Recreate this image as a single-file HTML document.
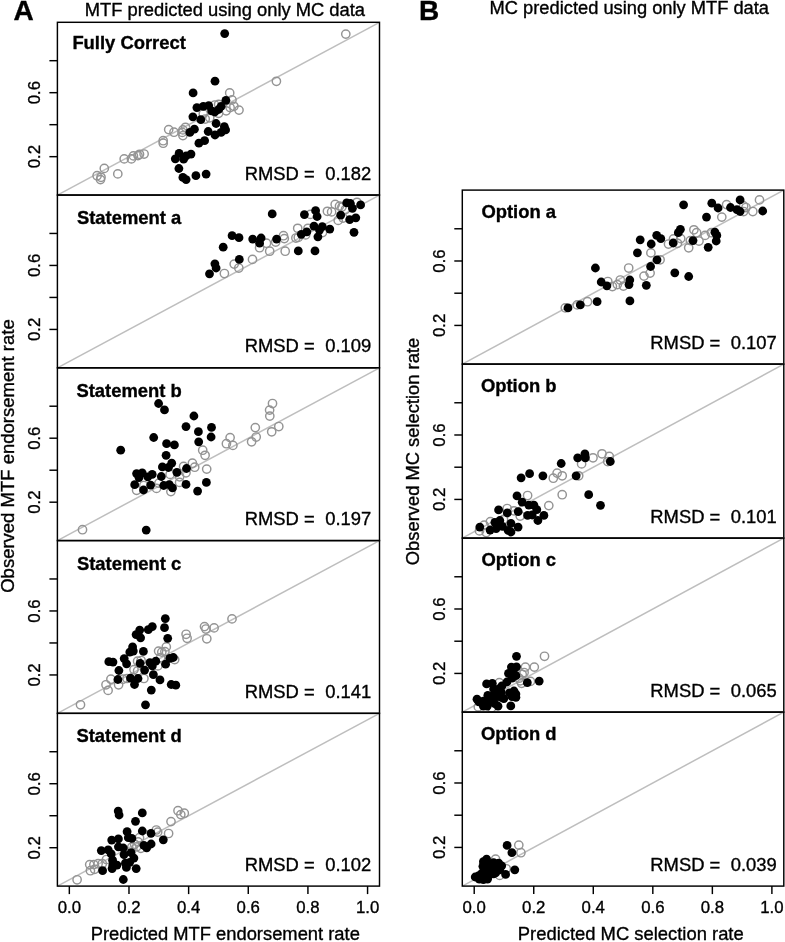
<!DOCTYPE html>
<html lang="en"><head><meta charset="utf-8"><title>Predicted vs observed rates</title>
<style>html,body{margin:0;padding:0;background:#fff}svg{display:block}</style></head>
<body>
<svg width="785" height="942" viewBox="0 0 785 942" font-family="'Liberation Sans', sans-serif" fill="#000" stroke="#000" stroke-width="0.35">
<rect width="785" height="942" fill="#fff" stroke="none"/>
<line x1="57.40" y1="195.06" x2="379.50" y2="22.30" stroke="#bebebe" stroke-width="1.5"/>
<g fill="none" stroke="#949494" stroke-width="1.45">
<circle cx="229.7" cy="92.9" r="4.15"/>
<circle cx="232.0" cy="99.9" r="4.15"/>
<circle cx="239.0" cy="110.1" r="4.15"/>
<circle cx="233.9" cy="106.3" r="4.15"/>
<circle cx="230.1" cy="107.6" r="4.15"/>
<circle cx="226.2" cy="110.8" r="4.15"/>
<circle cx="218.6" cy="104.4" r="4.15"/>
<circle cx="214.8" cy="105.0" r="4.15"/>
<circle cx="218.6" cy="113.3" r="4.15"/>
<circle cx="209.7" cy="117.8" r="4.15"/>
<circle cx="205.2" cy="119.0" r="4.15"/>
<circle cx="203.3" cy="113.9" r="4.15"/>
<circle cx="168.7" cy="129.6" r="4.15"/>
<circle cx="174.0" cy="132.2" r="4.15"/>
<circle cx="182.9" cy="129.9" r="4.15"/>
<circle cx="185.5" cy="127.3" r="4.15"/>
<circle cx="182.9" cy="135.6" r="4.15"/>
<circle cx="182.3" cy="132.4" r="4.15"/>
<circle cx="163.2" cy="140.7" r="4.15"/>
<circle cx="163.2" cy="143.2" r="4.15"/>
<circle cx="97.1" cy="175.7" r="4.15"/>
<circle cx="101.0" cy="177.3" r="4.15"/>
<circle cx="100.5" cy="179.6" r="4.15"/>
<circle cx="104.3" cy="168.4" r="4.15"/>
<circle cx="117.8" cy="173.9" r="4.15"/>
<circle cx="124.2" cy="158.9" r="4.15"/>
<circle cx="131.4" cy="158.9" r="4.15"/>
<circle cx="133.4" cy="155.9" r="4.15"/>
<circle cx="138.0" cy="155.6" r="4.15"/>
<circle cx="139.5" cy="154.3" r="4.15"/>
<circle cx="144.1" cy="154.0" r="4.15"/>
<circle cx="345.8" cy="34.1" r="4.15"/>
<circle cx="276.4" cy="81.3" r="4.15"/>
</g>
<g fill="#000" stroke="none">
<circle cx="215.0" cy="81.2" r="4.4"/>
<circle cx="193.1" cy="92.9" r="4.4"/>
<circle cx="225.9" cy="100.3" r="4.4"/>
<circle cx="196.9" cy="107.6" r="4.4"/>
<circle cx="203.3" cy="106.3" r="4.4"/>
<circle cx="208.7" cy="105.7" r="4.4"/>
<circle cx="211.6" cy="110.8" r="4.4"/>
<circle cx="214.8" cy="112.0" r="4.4"/>
<circle cx="218.6" cy="109.5" r="4.4"/>
<circle cx="221.1" cy="106.3" r="4.4"/>
<circle cx="192.9" cy="116.8" r="4.4"/>
<circle cx="200.8" cy="119.7" r="4.4"/>
<circle cx="216.1" cy="123.5" r="4.4"/>
<circle cx="224.3" cy="126.7" r="4.4"/>
<circle cx="225.6" cy="129.9" r="4.4"/>
<circle cx="221.1" cy="132.4" r="4.4"/>
<circle cx="215.0" cy="135.0" r="4.4"/>
<circle cx="208.2" cy="131.5" r="4.4"/>
<circle cx="194.4" cy="129.2" r="4.4"/>
<circle cx="189.9" cy="132.4" r="4.4"/>
<circle cx="204.6" cy="140.7" r="4.4"/>
<circle cx="198.9" cy="143.2" r="4.4"/>
<circle cx="179.1" cy="153.4" r="4.4"/>
<circle cx="191.0" cy="154.1" r="4.4"/>
<circle cx="186.1" cy="156.0" r="4.4"/>
<circle cx="175.3" cy="158.8" r="4.4"/>
<circle cx="183.6" cy="159.2" r="4.4"/>
<circle cx="178.9" cy="168.5" r="4.4"/>
<circle cx="182.9" cy="177.4" r="4.4"/>
<circle cx="186.1" cy="179.6" r="4.4"/>
<circle cx="195.9" cy="175.7" r="4.4"/>
<circle cx="206.1" cy="174.1" r="4.4"/>
<circle cx="224.7" cy="33.6" r="4.4"/>
</g>
<rect x="57.40" y="22.30" width="322.10" height="172.76" fill="none" stroke="#000" stroke-width="1.45"/>
<line x1="49.40" y1="156.67" x2="57.40" y2="156.67" stroke="#000" stroke-width="1.45"/>
<line x1="49.40" y1="124.68" x2="57.40" y2="124.68" stroke="#000" stroke-width="1.45"/>
<line x1="49.40" y1="92.68" x2="57.40" y2="92.68" stroke="#000" stroke-width="1.45"/>
<line x1="49.40" y1="60.69" x2="57.40" y2="60.69" stroke="#000" stroke-width="1.45"/>
<text transform="translate(40.00 156.67) rotate(-90)" text-anchor="middle" font-size="16.8">0.2</text>
<text transform="translate(40.00 92.68) rotate(-90)" text-anchor="middle" font-size="16.8">0.6</text>
<text x="129.10" y="49.10" font-size="18.4" font-weight="bold" text-anchor="middle">Fully Correct</text>
<text x="244.70" y="179.56" font-size="18.4">RMSD =</text>
<text x="371.20" y="179.56" font-size="18.4" text-anchor="end">0.182</text>
<line x1="57.40" y1="367.82" x2="379.50" y2="195.06" stroke="#bebebe" stroke-width="1.5"/>
<g fill="none" stroke="#949494" stroke-width="1.45">
<circle cx="283.5" cy="235.7" r="4.15"/>
<circle cx="284.3" cy="238.6" r="4.15"/>
<circle cx="266.5" cy="243.2" r="4.15"/>
<circle cx="259.6" cy="247.7" r="4.15"/>
<circle cx="275.7" cy="242.0" r="4.15"/>
<circle cx="269.7" cy="251.2" r="4.15"/>
<circle cx="285.2" cy="251.2" r="4.15"/>
<circle cx="252.5" cy="259.4" r="4.15"/>
<circle cx="234.2" cy="264.1" r="4.15"/>
<circle cx="238.8" cy="268.0" r="4.15"/>
<circle cx="224.4" cy="273.5" r="4.15"/>
<circle cx="357.0" cy="202.3" r="4.15"/>
<circle cx="335.2" cy="204.4" r="4.15"/>
<circle cx="339.5" cy="206.1" r="4.15"/>
<circle cx="341.9" cy="207.1" r="4.15"/>
<circle cx="327.4" cy="211.3" r="4.15"/>
<circle cx="331.6" cy="211.9" r="4.15"/>
<circle cx="310.4" cy="214.4" r="4.15"/>
<circle cx="338.2" cy="220.4" r="4.15"/>
<circle cx="343.1" cy="218.0" r="4.15"/>
<circle cx="297.7" cy="228.3" r="4.15"/>
<circle cx="308.0" cy="228.3" r="4.15"/>
<circle cx="295.9" cy="238.0" r="4.15"/>
<circle cx="298.3" cy="237.4" r="4.15"/>
<circle cx="305.6" cy="234.9" r="4.15"/>
<circle cx="322.5" cy="232.5" r="4.15"/>
<circle cx="345.5" cy="209.5" r="4.15"/>
</g>
<g fill="#000" stroke="none">
<circle cx="272.2" cy="213.9" r="4.4"/>
<circle cx="232.1" cy="235.7" r="4.4"/>
<circle cx="239.0" cy="237.7" r="4.4"/>
<circle cx="252.7" cy="239.1" r="4.4"/>
<circle cx="261.1" cy="238.0" r="4.4"/>
<circle cx="259.6" cy="243.2" r="4.4"/>
<circle cx="276.6" cy="239.1" r="4.4"/>
<circle cx="223.2" cy="247.2" r="4.4"/>
<circle cx="239.3" cy="259.4" r="4.4"/>
<circle cx="214.9" cy="263.8" r="4.4"/>
<circle cx="216.1" cy="268.0" r="4.4"/>
<circle cx="209.5" cy="273.8" r="4.4"/>
<circle cx="346.7" cy="202.9" r="4.4"/>
<circle cx="350.4" cy="203.5" r="4.4"/>
<circle cx="352.4" cy="208.3" r="4.4"/>
<circle cx="360.6" cy="204.9" r="4.4"/>
<circle cx="355.8" cy="217.8" r="4.4"/>
<circle cx="349.7" cy="219.6" r="4.4"/>
<circle cx="340.7" cy="215.2" r="4.4"/>
<circle cx="354.0" cy="232.3" r="4.4"/>
<circle cx="315.6" cy="210.7" r="4.4"/>
<circle cx="317.1" cy="216.5" r="4.4"/>
<circle cx="304.4" cy="214.6" r="4.4"/>
<circle cx="314.0" cy="226.2" r="4.4"/>
<circle cx="322.3" cy="226.7" r="4.4"/>
<circle cx="319.5" cy="230.1" r="4.4"/>
<circle cx="329.8" cy="229.1" r="4.4"/>
<circle cx="317.9" cy="236.8" r="4.4"/>
<circle cx="306.8" cy="231.9" r="4.4"/>
<circle cx="301.3" cy="234.3" r="4.4"/>
<circle cx="298.3" cy="250.9" r="4.4"/>
<circle cx="315.0" cy="250.9" r="4.4"/>
</g>
<rect x="57.40" y="195.06" width="322.10" height="172.76" fill="none" stroke="#000" stroke-width="1.45"/>
<line x1="49.40" y1="329.43" x2="57.40" y2="329.43" stroke="#000" stroke-width="1.45"/>
<line x1="49.40" y1="297.44" x2="57.40" y2="297.44" stroke="#000" stroke-width="1.45"/>
<line x1="49.40" y1="265.44" x2="57.40" y2="265.44" stroke="#000" stroke-width="1.45"/>
<line x1="49.40" y1="233.45" x2="57.40" y2="233.45" stroke="#000" stroke-width="1.45"/>
<text transform="translate(40.00 329.43) rotate(-90)" text-anchor="middle" font-size="16.8">0.2</text>
<text transform="translate(40.00 265.44) rotate(-90)" text-anchor="middle" font-size="16.8">0.6</text>
<text x="129.10" y="224.16" font-size="18.4" font-weight="bold" text-anchor="middle">Statement a</text>
<text x="244.70" y="352.32" font-size="18.4">RMSD =</text>
<text x="371.20" y="352.32" font-size="18.4" text-anchor="end">0.109</text>
<line x1="57.40" y1="540.58" x2="379.50" y2="367.82" stroke="#bebebe" stroke-width="1.5"/>
<g fill="none" stroke="#949494" stroke-width="1.45">
<circle cx="202.7" cy="450.2" r="4.15"/>
<circle cx="205.1" cy="455.3" r="4.15"/>
<circle cx="206.7" cy="469.1" r="4.15"/>
<circle cx="192.4" cy="463.2" r="4.15"/>
<circle cx="194.7" cy="467.2" r="4.15"/>
<circle cx="183.6" cy="466.4" r="4.15"/>
<circle cx="186.0" cy="472.8" r="4.15"/>
<circle cx="179.6" cy="476.8" r="4.15"/>
<circle cx="179.6" cy="482.4" r="4.15"/>
<circle cx="170.1" cy="474.4" r="4.15"/>
<circle cx="170.9" cy="491.6" r="4.15"/>
<circle cx="156.5" cy="488.4" r="4.15"/>
<circle cx="136.6" cy="490.3" r="4.15"/>
<circle cx="143.8" cy="485.5" r="4.15"/>
<circle cx="158.9" cy="483.2" r="4.15"/>
<circle cx="272.5" cy="403.5" r="4.15"/>
<circle cx="269.6" cy="410.1" r="4.15"/>
<circle cx="269.8" cy="416.1" r="4.15"/>
<circle cx="278.8" cy="426.5" r="4.15"/>
<circle cx="271.7" cy="431.8" r="4.15"/>
<circle cx="255.3" cy="427.6" r="4.15"/>
<circle cx="256.2" cy="437.0" r="4.15"/>
<circle cx="251.6" cy="441.8" r="4.15"/>
<circle cx="230.1" cy="437.6" r="4.15"/>
<circle cx="226.4" cy="443.7" r="4.15"/>
<circle cx="232.9" cy="445.4" r="4.15"/>
<circle cx="82.5" cy="529.7" r="4.15"/>
</g>
<g fill="#000" stroke="none">
<circle cx="158.6" cy="403.5" r="4.4"/>
<circle cx="164.5" cy="409.9" r="4.4"/>
<circle cx="193.9" cy="416.0" r="4.4"/>
<circle cx="186.0" cy="426.6" r="4.4"/>
<circle cx="211.5" cy="427.4" r="4.4"/>
<circle cx="198.4" cy="431.7" r="4.4"/>
<circle cx="211.1" cy="437.0" r="4.4"/>
<circle cx="198.7" cy="441.8" r="4.4"/>
<circle cx="153.7" cy="437.5" r="4.4"/>
<circle cx="166.6" cy="443.7" r="4.4"/>
<circle cx="174.4" cy="444.9" r="4.4"/>
<circle cx="120.7" cy="450.2" r="4.4"/>
<circle cx="166.1" cy="455.3" r="4.4"/>
<circle cx="171.7" cy="463.2" r="4.4"/>
<circle cx="162.4" cy="466.9" r="4.4"/>
<circle cx="168.5" cy="467.5" r="4.4"/>
<circle cx="186.5" cy="468.5" r="4.4"/>
<circle cx="176.9" cy="472.3" r="4.4"/>
<circle cx="161.3" cy="476.5" r="4.4"/>
<circle cx="136.6" cy="473.6" r="4.4"/>
<circle cx="142.2" cy="472.8" r="4.4"/>
<circle cx="139.0" cy="477.6" r="4.4"/>
<circle cx="147.8" cy="476.8" r="4.4"/>
<circle cx="152.2" cy="474.4" r="4.4"/>
<circle cx="134.7" cy="484.7" r="4.4"/>
<circle cx="143.5" cy="490.0" r="4.4"/>
<circle cx="150.6" cy="485.1" r="4.4"/>
<circle cx="163.7" cy="485.5" r="4.4"/>
<circle cx="169.3" cy="484.7" r="4.4"/>
<circle cx="172.5" cy="487.9" r="4.4"/>
<circle cx="186.0" cy="484.4" r="4.4"/>
<circle cx="206.4" cy="482.4" r="4.4"/>
<circle cx="197.6" cy="491.1" r="4.4"/>
<circle cx="146.2" cy="530.1" r="4.4"/>
</g>
<rect x="57.40" y="367.82" width="322.10" height="172.76" fill="none" stroke="#000" stroke-width="1.45"/>
<line x1="49.40" y1="502.19" x2="57.40" y2="502.19" stroke="#000" stroke-width="1.45"/>
<line x1="49.40" y1="470.20" x2="57.40" y2="470.20" stroke="#000" stroke-width="1.45"/>
<line x1="49.40" y1="438.20" x2="57.40" y2="438.20" stroke="#000" stroke-width="1.45"/>
<line x1="49.40" y1="406.21" x2="57.40" y2="406.21" stroke="#000" stroke-width="1.45"/>
<text transform="translate(40.00 502.19) rotate(-90)" text-anchor="middle" font-size="16.8">0.2</text>
<text transform="translate(40.00 438.20) rotate(-90)" text-anchor="middle" font-size="16.8">0.6</text>
<text x="129.10" y="396.92" font-size="18.4" font-weight="bold" text-anchor="middle">Statement b</text>
<text x="244.70" y="525.08" font-size="18.4">RMSD =</text>
<text x="371.20" y="525.08" font-size="18.4" text-anchor="end">0.197</text>
<line x1="57.40" y1="713.34" x2="379.50" y2="540.58" stroke="#bebebe" stroke-width="1.5"/>
<g fill="none" stroke="#949494" stroke-width="1.45">
<circle cx="166.3" cy="646.9" r="4.15"/>
<circle cx="158.6" cy="651.1" r="4.15"/>
<circle cx="161.8" cy="652.1" r="4.15"/>
<circle cx="164.9" cy="651.6" r="4.15"/>
<circle cx="137.6" cy="661.2" r="4.15"/>
<circle cx="141.1" cy="660.5" r="4.15"/>
<circle cx="134.0" cy="669.6" r="4.15"/>
<circle cx="137.6" cy="671.0" r="4.15"/>
<circle cx="110.9" cy="679.2" r="4.15"/>
<circle cx="106.0" cy="684.8" r="4.15"/>
<circle cx="108.1" cy="690.4" r="4.15"/>
<circle cx="118.6" cy="684.8" r="4.15"/>
<circle cx="122.8" cy="679.2" r="4.15"/>
<circle cx="127.0" cy="678.5" r="4.15"/>
<circle cx="143.9" cy="678.5" r="4.15"/>
<circle cx="157.9" cy="665.9" r="4.15"/>
<circle cx="174.7" cy="659.6" r="4.15"/>
<circle cx="160.7" cy="657.5" r="4.15"/>
<circle cx="186.1" cy="634.3" r="4.15"/>
<circle cx="187.1" cy="638.3" r="4.15"/>
<circle cx="204.5" cy="626.6" r="4.15"/>
<circle cx="205.9" cy="629.0" r="4.15"/>
<circle cx="206.8" cy="638.8" r="4.15"/>
<circle cx="214.1" cy="627.9" r="4.15"/>
<circle cx="232.0" cy="618.9" r="4.15"/>
<circle cx="80.5" cy="704.8" r="4.15"/>
</g>
<g fill="#000" stroke="none">
<circle cx="165.3" cy="618.6" r="4.4"/>
<circle cx="164.5" cy="627.7" r="4.4"/>
<circle cx="167.7" cy="638.3" r="4.4"/>
<circle cx="152.3" cy="626.6" r="4.4"/>
<circle cx="148.3" cy="629.7" r="4.4"/>
<circle cx="139.7" cy="630.1" r="4.4"/>
<circle cx="136.1" cy="634.6" r="4.4"/>
<circle cx="140.6" cy="637.8" r="4.4"/>
<circle cx="132.6" cy="646.9" r="4.4"/>
<circle cx="133.3" cy="651.1" r="4.4"/>
<circle cx="129.8" cy="652.1" r="4.4"/>
<circle cx="143.4" cy="651.4" r="4.4"/>
<circle cx="173.3" cy="657.5" r="4.4"/>
<circle cx="169.8" cy="658.4" r="4.4"/>
<circle cx="165.6" cy="664.2" r="4.4"/>
<circle cx="155.8" cy="661.2" r="4.4"/>
<circle cx="149.9" cy="662.6" r="4.4"/>
<circle cx="152.3" cy="665.9" r="4.4"/>
<circle cx="140.1" cy="663.3" r="4.4"/>
<circle cx="144.6" cy="670.1" r="4.4"/>
<circle cx="124.2" cy="658.6" r="4.4"/>
<circle cx="126.6" cy="663.8" r="4.4"/>
<circle cx="108.8" cy="661.7" r="4.4"/>
<circle cx="113.0" cy="662.1" r="4.4"/>
<circle cx="118.9" cy="670.5" r="4.4"/>
<circle cx="117.9" cy="679.5" r="4.4"/>
<circle cx="130.5" cy="678.1" r="4.4"/>
<circle cx="138.0" cy="678.5" r="4.4"/>
<circle cx="134.5" cy="684.5" r="4.4"/>
<circle cx="153.4" cy="674.7" r="4.4"/>
<circle cx="160.0" cy="679.9" r="4.4"/>
<circle cx="151.3" cy="690.1" r="4.4"/>
<circle cx="171.2" cy="684.5" r="4.4"/>
<circle cx="175.8" cy="685.2" r="4.4"/>
<circle cx="145.5" cy="704.8" r="4.4"/>
</g>
<rect x="57.40" y="540.58" width="322.10" height="172.76" fill="none" stroke="#000" stroke-width="1.45"/>
<line x1="49.40" y1="674.95" x2="57.40" y2="674.95" stroke="#000" stroke-width="1.45"/>
<line x1="49.40" y1="642.96" x2="57.40" y2="642.96" stroke="#000" stroke-width="1.45"/>
<line x1="49.40" y1="610.96" x2="57.40" y2="610.96" stroke="#000" stroke-width="1.45"/>
<line x1="49.40" y1="578.97" x2="57.40" y2="578.97" stroke="#000" stroke-width="1.45"/>
<text transform="translate(40.00 674.95) rotate(-90)" text-anchor="middle" font-size="16.8">0.2</text>
<text transform="translate(40.00 610.96) rotate(-90)" text-anchor="middle" font-size="16.8">0.6</text>
<text x="129.10" y="569.68" font-size="18.4" font-weight="bold" text-anchor="middle">Statement c</text>
<text x="244.70" y="697.84" font-size="18.4">RMSD =</text>
<text x="371.20" y="697.84" font-size="18.4" text-anchor="end">0.141</text>
<line x1="57.40" y1="886.10" x2="379.50" y2="713.34" stroke="#bebebe" stroke-width="1.5"/>
<g fill="none" stroke="#949494" stroke-width="1.45">
<circle cx="178.0" cy="810.7" r="4.15"/>
<circle cx="180.8" cy="814.6" r="4.15"/>
<circle cx="184.3" cy="813.2" r="4.15"/>
<circle cx="171.0" cy="821.6" r="4.15"/>
<circle cx="168.6" cy="833.5" r="4.15"/>
<circle cx="156.3" cy="830.0" r="4.15"/>
<circle cx="157.7" cy="832.1" r="4.15"/>
<circle cx="139.5" cy="837.7" r="4.15"/>
<circle cx="140.9" cy="848.3" r="4.15"/>
<circle cx="136.7" cy="846.8" r="4.15"/>
<circle cx="89.7" cy="864.6" r="4.15"/>
<circle cx="93.9" cy="864.6" r="4.15"/>
<circle cx="98.1" cy="863.7" r="4.15"/>
<circle cx="102.3" cy="863.7" r="4.15"/>
<circle cx="90.4" cy="870.7" r="4.15"/>
<circle cx="94.6" cy="869.3" r="4.15"/>
<circle cx="77.1" cy="879.8" r="4.15"/>
<circle cx="106.5" cy="859.5" r="4.15"/>
<circle cx="138.1" cy="841.9" r="4.15"/>
<circle cx="134.6" cy="844.3" r="4.15"/>
<circle cx="131.8" cy="847.1" r="4.15"/>
</g>
<g fill="#000" stroke="none">
<circle cx="118.2" cy="811.1" r="4.4"/>
<circle cx="119.1" cy="815.0" r="4.4"/>
<circle cx="142.3" cy="812.9" r="4.4"/>
<circle cx="135.5" cy="821.3" r="4.4"/>
<circle cx="127.1" cy="831.7" r="4.4"/>
<circle cx="142.3" cy="831.0" r="4.4"/>
<circle cx="151.0" cy="833.3" r="4.4"/>
<circle cx="163.3" cy="839.8" r="4.4"/>
<circle cx="111.7" cy="840.1" r="4.4"/>
<circle cx="118.4" cy="838.9" r="4.4"/>
<circle cx="128.3" cy="837.7" r="4.4"/>
<circle cx="131.8" cy="838.4" r="4.4"/>
<circle cx="151.1" cy="844.0" r="4.4"/>
<circle cx="143.9" cy="845.4" r="4.4"/>
<circle cx="146.7" cy="847.8" r="4.4"/>
<circle cx="118.4" cy="846.8" r="4.4"/>
<circle cx="123.3" cy="848.0" r="4.4"/>
<circle cx="101.3" cy="850.6" r="4.4"/>
<circle cx="108.2" cy="849.9" r="4.4"/>
<circle cx="111.2" cy="853.9" r="4.4"/>
<circle cx="124.0" cy="854.6" r="4.4"/>
<circle cx="131.1" cy="852.7" r="4.4"/>
<circle cx="133.9" cy="858.1" r="4.4"/>
<circle cx="112.6" cy="860.2" r="4.4"/>
<circle cx="112.8" cy="865.1" r="4.4"/>
<circle cx="117.0" cy="865.1" r="4.4"/>
<circle cx="112.1" cy="868.6" r="4.4"/>
<circle cx="125.4" cy="863.2" r="4.4"/>
<circle cx="129.7" cy="862.3" r="4.4"/>
<circle cx="126.4" cy="867.4" r="4.4"/>
<circle cx="136.2" cy="868.6" r="4.4"/>
<circle cx="102.6" cy="870.7" r="4.4"/>
<circle cx="123.3" cy="879.5" r="4.4"/>
</g>
<rect x="57.40" y="713.34" width="322.10" height="172.76" fill="none" stroke="#000" stroke-width="1.45"/>
<line x1="49.40" y1="847.71" x2="57.40" y2="847.71" stroke="#000" stroke-width="1.45"/>
<line x1="49.40" y1="815.72" x2="57.40" y2="815.72" stroke="#000" stroke-width="1.45"/>
<line x1="49.40" y1="783.72" x2="57.40" y2="783.72" stroke="#000" stroke-width="1.45"/>
<line x1="49.40" y1="751.73" x2="57.40" y2="751.73" stroke="#000" stroke-width="1.45"/>
<text transform="translate(40.00 847.71) rotate(-90)" text-anchor="middle" font-size="16.8">0.2</text>
<text transform="translate(40.00 783.72) rotate(-90)" text-anchor="middle" font-size="16.8">0.6</text>
<text x="129.10" y="742.44" font-size="18.4" font-weight="bold" text-anchor="middle">Statement d</text>
<text x="244.70" y="870.60" font-size="18.4">RMSD =</text>
<text x="371.20" y="870.60" font-size="18.4" text-anchor="end">0.102</text>
<line x1="69.33" y1="886.10" x2="69.33" y2="894.10" stroke="#000" stroke-width="1.45"/>
<text x="69.33" y="913.00" text-anchor="middle" font-size="16.8">0.0</text>
<line x1="128.98" y1="886.10" x2="128.98" y2="894.10" stroke="#000" stroke-width="1.45"/>
<text x="128.98" y="913.00" text-anchor="middle" font-size="16.8">0.2</text>
<line x1="188.63" y1="886.10" x2="188.63" y2="894.10" stroke="#000" stroke-width="1.45"/>
<text x="188.63" y="913.00" text-anchor="middle" font-size="16.8">0.4</text>
<line x1="248.27" y1="886.10" x2="248.27" y2="894.10" stroke="#000" stroke-width="1.45"/>
<text x="248.27" y="913.00" text-anchor="middle" font-size="16.8">0.6</text>
<line x1="307.92" y1="886.10" x2="307.92" y2="894.10" stroke="#000" stroke-width="1.45"/>
<text x="307.92" y="913.00" text-anchor="middle" font-size="16.8">0.8</text>
<line x1="367.57" y1="886.10" x2="367.57" y2="894.10" stroke="#000" stroke-width="1.45"/>
<text x="367.57" y="913.00" text-anchor="middle" font-size="16.8">1.0</text>
<line x1="462.30" y1="364.10" x2="783.80" y2="190.10" stroke="#bebebe" stroke-width="1.5"/>
<g fill="none" stroke="#949494" stroke-width="1.45">
<circle cx="668.5" cy="244.0" r="4.15"/>
<circle cx="650.9" cy="252.9" r="4.15"/>
<circle cx="660.1" cy="259.8" r="4.15"/>
<circle cx="628.7" cy="268.0" r="4.15"/>
<circle cx="650.1" cy="273.1" r="4.15"/>
<circle cx="644.0" cy="276.1" r="4.15"/>
<circle cx="607.8" cy="281.5" r="4.15"/>
<circle cx="620.3" cy="280.0" r="4.15"/>
<circle cx="617.3" cy="284.6" r="4.15"/>
<circle cx="612.4" cy="286.5" r="4.15"/>
<circle cx="623.4" cy="286.1" r="4.15"/>
<circle cx="587.5" cy="301.7" r="4.15"/>
<circle cx="577.2" cy="304.9" r="4.15"/>
<circle cx="565.3" cy="307.9" r="4.15"/>
<circle cx="759.5" cy="199.9" r="4.15"/>
<circle cx="726.6" cy="204.6" r="4.15"/>
<circle cx="743.6" cy="205.9" r="4.15"/>
<circle cx="746.0" cy="207.5" r="4.15"/>
<circle cx="743.6" cy="211.5" r="4.15"/>
<circle cx="752.8" cy="211.5" r="4.15"/>
<circle cx="721.8" cy="217.1" r="4.15"/>
<circle cx="693.9" cy="229.8" r="4.15"/>
<circle cx="696.6" cy="232.7" r="4.15"/>
<circle cx="705.1" cy="235.4" r="4.15"/>
<circle cx="711.3" cy="232.7" r="4.15"/>
<circle cx="673.5" cy="238.9" r="4.15"/>
<circle cx="680.7" cy="238.6" r="4.15"/>
<circle cx="677.5" cy="243.3" r="4.15"/>
<circle cx="690.3" cy="240.6" r="4.15"/>
<circle cx="699.0" cy="241.0" r="4.15"/>
<circle cx="688.7" cy="247.8" r="4.15"/>
</g>
<g fill="#000" stroke="none">
<circle cx="656.7" cy="235.3" r="4.4"/>
<circle cx="660.8" cy="238.7" r="4.4"/>
<circle cx="640.2" cy="239.8" r="4.4"/>
<circle cx="651.2" cy="244.0" r="4.4"/>
<circle cx="637.4" cy="252.8" r="4.4"/>
<circle cx="657.0" cy="259.8" r="4.4"/>
<circle cx="650.6" cy="266.5" r="4.4"/>
<circle cx="595.4" cy="268.0" r="4.4"/>
<circle cx="601.2" cy="282.0" r="4.4"/>
<circle cx="606.9" cy="285.8" r="4.4"/>
<circle cx="629.8" cy="280.0" r="4.4"/>
<circle cx="629.0" cy="284.6" r="4.4"/>
<circle cx="646.3" cy="285.3" r="4.4"/>
<circle cx="597.1" cy="301.7" r="4.4"/>
<circle cx="629.9" cy="300.9" r="4.4"/>
<circle cx="580.3" cy="304.9" r="4.4"/>
<circle cx="568.0" cy="307.9" r="4.4"/>
<circle cx="740.1" cy="199.9" r="4.4"/>
<circle cx="683.6" cy="204.8" r="4.4"/>
<circle cx="711.8" cy="203.2" r="4.4"/>
<circle cx="718.1" cy="208.0" r="4.4"/>
<circle cx="730.5" cy="207.5" r="4.4"/>
<circle cx="736.9" cy="209.6" r="4.4"/>
<circle cx="740.1" cy="211.5" r="4.4"/>
<circle cx="762.7" cy="211.0" r="4.4"/>
<circle cx="706.5" cy="217.1" r="4.4"/>
<circle cx="680.4" cy="229.3" r="4.4"/>
<circle cx="678.3" cy="232.7" r="4.4"/>
<circle cx="714.9" cy="232.2" r="4.4"/>
<circle cx="716.8" cy="235.4" r="4.4"/>
<circle cx="716.2" cy="241.0" r="4.4"/>
<circle cx="673.2" cy="243.0" r="4.4"/>
<circle cx="693.0" cy="240.6" r="4.4"/>
<circle cx="708.2" cy="247.3" r="4.4"/>
<circle cx="674.8" cy="272.8" r="4.4"/>
<circle cx="688.7" cy="276.5" r="4.4"/>
</g>
<rect x="462.30" y="190.10" width="321.50" height="174.00" fill="none" stroke="#000" stroke-width="1.45"/>
<line x1="454.30" y1="325.43" x2="462.30" y2="325.43" stroke="#000" stroke-width="1.45"/>
<line x1="454.30" y1="293.21" x2="462.30" y2="293.21" stroke="#000" stroke-width="1.45"/>
<line x1="454.30" y1="260.99" x2="462.30" y2="260.99" stroke="#000" stroke-width="1.45"/>
<line x1="454.30" y1="228.77" x2="462.30" y2="228.77" stroke="#000" stroke-width="1.45"/>
<text transform="translate(444.90 325.43) rotate(-90)" text-anchor="middle" font-size="16.8">0.2</text>
<text transform="translate(444.90 260.99) rotate(-90)" text-anchor="middle" font-size="16.8">0.6</text>
<text x="518.70" y="218.10" font-size="18.4" font-weight="bold" text-anchor="middle">Option a</text>
<text x="650.30" y="348.60" font-size="18.4">RMSD =</text>
<text x="776.80" y="348.60" font-size="18.4" text-anchor="end">0.107</text>
<line x1="462.30" y1="538.10" x2="783.80" y2="364.10" stroke="#bebebe" stroke-width="1.5"/>
<g fill="none" stroke="#949494" stroke-width="1.45">
<circle cx="602.0" cy="453.8" r="4.15"/>
<circle cx="609.3" cy="456.4" r="4.15"/>
<circle cx="593.0" cy="457.8" r="4.15"/>
<circle cx="607.7" cy="461.5" r="4.15"/>
<circle cx="581.6" cy="463.9" r="4.15"/>
<circle cx="557.1" cy="473.1" r="4.15"/>
<circle cx="562.2" cy="475.8" r="4.15"/>
<circle cx="553.3" cy="478.2" r="4.15"/>
<circle cx="578.7" cy="475.8" r="4.15"/>
<circle cx="562.2" cy="494.7" r="4.15"/>
<circle cx="527.6" cy="495.5" r="4.15"/>
<circle cx="548.8" cy="505.6" r="4.15"/>
<circle cx="507.2" cy="508.5" r="4.15"/>
<circle cx="513.9" cy="510.8" r="4.15"/>
<circle cx="520.2" cy="516.0" r="4.15"/>
<circle cx="490.4" cy="521.7" r="4.15"/>
<circle cx="503.5" cy="519.4" r="4.15"/>
<circle cx="484.1" cy="525.1" r="4.15"/>
<circle cx="479.5" cy="530.9" r="4.15"/>
<circle cx="486.3" cy="532.6" r="4.15"/>
</g>
<g fill="#000" stroke="none">
<circle cx="584.9" cy="453.8" r="4.4"/>
<circle cx="577.7" cy="457.8" r="4.4"/>
<circle cx="585.3" cy="457.8" r="4.4"/>
<circle cx="610.3" cy="461.5" r="4.4"/>
<circle cx="561.2" cy="463.5" r="4.4"/>
<circle cx="576.1" cy="475.8" r="4.4"/>
<circle cx="529.6" cy="473.7" r="4.4"/>
<circle cx="521.1" cy="477.8" r="4.4"/>
<circle cx="542.9" cy="475.8" r="4.4"/>
<circle cx="588.7" cy="494.7" r="4.4"/>
<circle cx="600.5" cy="505.3" r="4.4"/>
<circle cx="517.0" cy="495.9" r="4.4"/>
<circle cx="522.2" cy="502.2" r="4.4"/>
<circle cx="528.8" cy="505.1" r="4.4"/>
<circle cx="533.9" cy="505.1" r="4.4"/>
<circle cx="536.8" cy="509.7" r="4.4"/>
<circle cx="498.6" cy="509.9" r="4.4"/>
<circle cx="507.3" cy="512.9" r="4.4"/>
<circle cx="518.2" cy="511.6" r="4.4"/>
<circle cx="527.6" cy="515.4" r="4.4"/>
<circle cx="532.2" cy="515.0" r="4.4"/>
<circle cx="543.9" cy="515.4" r="4.4"/>
<circle cx="537.9" cy="520.5" r="4.4"/>
<circle cx="494.9" cy="522.3" r="4.4"/>
<circle cx="499.8" cy="520.5" r="4.4"/>
<circle cx="497.5" cy="525.7" r="4.4"/>
<circle cx="502.4" cy="526.3" r="4.4"/>
<circle cx="511.0" cy="523.4" r="4.4"/>
<circle cx="518.1" cy="527.1" r="4.4"/>
<circle cx="508.1" cy="530.3" r="4.4"/>
<circle cx="511.0" cy="532.0" r="4.4"/>
<circle cx="490.1" cy="530.1" r="4.4"/>
<circle cx="496.1" cy="528.6" r="4.4"/>
<circle cx="479.8" cy="527.1" r="4.4"/>
</g>
<rect x="462.30" y="364.10" width="321.50" height="174.00" fill="none" stroke="#000" stroke-width="1.45"/>
<line x1="454.30" y1="499.43" x2="462.30" y2="499.43" stroke="#000" stroke-width="1.45"/>
<line x1="454.30" y1="467.21" x2="462.30" y2="467.21" stroke="#000" stroke-width="1.45"/>
<line x1="454.30" y1="434.99" x2="462.30" y2="434.99" stroke="#000" stroke-width="1.45"/>
<line x1="454.30" y1="402.77" x2="462.30" y2="402.77" stroke="#000" stroke-width="1.45"/>
<text transform="translate(444.90 499.43) rotate(-90)" text-anchor="middle" font-size="16.8">0.2</text>
<text transform="translate(444.90 434.99) rotate(-90)" text-anchor="middle" font-size="16.8">0.6</text>
<text x="518.70" y="392.10" font-size="18.4" font-weight="bold" text-anchor="middle">Option b</text>
<text x="650.30" y="522.60" font-size="18.4">RMSD =</text>
<text x="776.80" y="522.60" font-size="18.4" text-anchor="end">0.101</text>
<line x1="462.30" y1="712.10" x2="783.80" y2="538.10" stroke="#bebebe" stroke-width="1.5"/>
<g fill="none" stroke="#949494" stroke-width="1.45">
<circle cx="544.5" cy="656.3" r="4.15"/>
<circle cx="525.4" cy="667.1" r="4.15"/>
<circle cx="534.3" cy="667.1" r="4.15"/>
<circle cx="524.1" cy="672.5" r="4.15"/>
<circle cx="522.2" cy="674.4" r="4.15"/>
<circle cx="520.3" cy="680.8" r="4.15"/>
<circle cx="530.5" cy="681.4" r="4.15"/>
<circle cx="521.6" cy="683.3" r="4.15"/>
<circle cx="499.3" cy="682.7" r="4.15"/>
<circle cx="478.3" cy="706.9" r="4.15"/>
<circle cx="491.7" cy="707.8" r="4.15"/>
<circle cx="519.1" cy="678.2" r="4.15"/>
</g>
<g fill="#000" stroke="none">
<circle cx="516.5" cy="656.3" r="4.4"/>
<circle cx="511.4" cy="667.1" r="4.4"/>
<circle cx="516.5" cy="666.8" r="4.4"/>
<circle cx="508.5" cy="673.4" r="4.4"/>
<circle cx="513.3" cy="672.5" r="4.4"/>
<circle cx="515.9" cy="675.7" r="4.4"/>
<circle cx="512.0" cy="678.2" r="4.4"/>
<circle cx="506.9" cy="682.0" r="4.4"/>
<circle cx="527.3" cy="682.7" r="4.4"/>
<circle cx="539.2" cy="681.1" r="4.4"/>
<circle cx="486.6" cy="683.9" r="4.4"/>
<circle cx="492.3" cy="683.3" r="4.4"/>
<circle cx="501.9" cy="685.9" r="4.4"/>
<circle cx="498.7" cy="689.0" r="4.4"/>
<circle cx="493.6" cy="689.0" r="4.4"/>
<circle cx="496.1" cy="692.2" r="4.4"/>
<circle cx="501.2" cy="692.2" r="4.4"/>
<circle cx="487.8" cy="695.4" r="4.4"/>
<circle cx="492.3" cy="696.1" r="4.4"/>
<circle cx="496.8" cy="696.1" r="4.4"/>
<circle cx="501.2" cy="697.3" r="4.4"/>
<circle cx="503.8" cy="698.6" r="4.4"/>
<circle cx="509.5" cy="692.9" r="4.4"/>
<circle cx="514.0" cy="691.0" r="4.4"/>
<circle cx="515.9" cy="694.1" r="4.4"/>
<circle cx="512.0" cy="696.7" r="4.4"/>
<circle cx="515.9" cy="697.3" r="4.4"/>
<circle cx="477.0" cy="699.2" r="4.4"/>
<circle cx="478.9" cy="701.8" r="4.4"/>
<circle cx="483.4" cy="701.1" r="4.4"/>
<circle cx="488.5" cy="701.1" r="4.4"/>
<circle cx="493.6" cy="701.8" r="4.4"/>
<circle cx="483.4" cy="706.2" r="4.4"/>
<circle cx="487.2" cy="706.2" r="4.4"/>
<circle cx="498.0" cy="706.2" r="4.4"/>
<circle cx="510.8" cy="705.9" r="4.4"/>
<circle cx="494.8" cy="703.7" r="4.4"/>
</g>
<rect x="462.30" y="538.10" width="321.50" height="174.00" fill="none" stroke="#000" stroke-width="1.45"/>
<line x1="454.30" y1="673.43" x2="462.30" y2="673.43" stroke="#000" stroke-width="1.45"/>
<line x1="454.30" y1="641.21" x2="462.30" y2="641.21" stroke="#000" stroke-width="1.45"/>
<line x1="454.30" y1="608.99" x2="462.30" y2="608.99" stroke="#000" stroke-width="1.45"/>
<line x1="454.30" y1="576.77" x2="462.30" y2="576.77" stroke="#000" stroke-width="1.45"/>
<text transform="translate(444.90 673.43) rotate(-90)" text-anchor="middle" font-size="16.8">0.2</text>
<text transform="translate(444.90 608.99) rotate(-90)" text-anchor="middle" font-size="16.8">0.6</text>
<text x="518.70" y="566.10" font-size="18.4" font-weight="bold" text-anchor="middle">Option c</text>
<text x="650.30" y="696.60" font-size="18.4">RMSD =</text>
<text x="776.80" y="696.60" font-size="18.4" text-anchor="end">0.065</text>
<line x1="462.30" y1="886.10" x2="783.80" y2="712.10" stroke="#bebebe" stroke-width="1.5"/>
<g fill="none" stroke="#949494" stroke-width="1.45">
<circle cx="518.8" cy="845.1" r="4.15"/>
<circle cx="520.9" cy="852.7" r="4.15"/>
<circle cx="495.6" cy="859.1" r="4.15"/>
<circle cx="506.3" cy="868.8" r="4.15"/>
<circle cx="499.7" cy="875.4" r="4.15"/>
</g>
<g fill="#000" stroke="none">
<circle cx="507.1" cy="845.4" r="4.4"/>
<circle cx="511.9" cy="852.7" r="4.4"/>
<circle cx="514.8" cy="869.8" r="4.4"/>
<circle cx="505.6" cy="874.4" r="4.4"/>
<circle cx="486.6" cy="859.1" r="4.4"/>
<circle cx="483.4" cy="861.7" r="4.4"/>
<circle cx="482.9" cy="866.3" r="4.4"/>
<circle cx="487.5" cy="865.8" r="4.4"/>
<circle cx="493.6" cy="862.7" r="4.4"/>
<circle cx="498.7" cy="863.2" r="4.4"/>
<circle cx="501.7" cy="865.8" r="4.4"/>
<circle cx="497.6" cy="867.8" r="4.4"/>
<circle cx="492.6" cy="868.8" r="4.4"/>
<circle cx="487.5" cy="870.9" r="4.4"/>
<circle cx="483.4" cy="871.9" r="4.4"/>
<circle cx="493.6" cy="873.9" r="4.4"/>
<circle cx="495.6" cy="872.9" r="4.4"/>
<circle cx="488.5" cy="876.0" r="4.4"/>
<circle cx="478.3" cy="876.0" r="4.4"/>
<circle cx="475.2" cy="877.0" r="4.4"/>
<circle cx="479.3" cy="879.2" r="4.4"/>
<circle cx="483.4" cy="879.7" r="4.4"/>
<circle cx="487.5" cy="879.2" r="4.4"/>
<circle cx="481.3" cy="873.9" r="4.4"/>
<circle cx="499.7" cy="869.8" r="4.4"/>
<circle cx="490.5" cy="864.7" r="4.4"/>
</g>
<rect x="462.30" y="712.10" width="321.50" height="174.00" fill="none" stroke="#000" stroke-width="1.45"/>
<line x1="454.30" y1="847.43" x2="462.30" y2="847.43" stroke="#000" stroke-width="1.45"/>
<line x1="454.30" y1="815.21" x2="462.30" y2="815.21" stroke="#000" stroke-width="1.45"/>
<line x1="454.30" y1="782.99" x2="462.30" y2="782.99" stroke="#000" stroke-width="1.45"/>
<line x1="454.30" y1="750.77" x2="462.30" y2="750.77" stroke="#000" stroke-width="1.45"/>
<text transform="translate(444.90 847.43) rotate(-90)" text-anchor="middle" font-size="16.8">0.2</text>
<text transform="translate(444.90 782.99) rotate(-90)" text-anchor="middle" font-size="16.8">0.6</text>
<text x="518.70" y="740.10" font-size="18.4" font-weight="bold" text-anchor="middle">Option d</text>
<text x="650.30" y="870.60" font-size="18.4">RMSD =</text>
<text x="776.80" y="870.60" font-size="18.4" text-anchor="end">0.039</text>
<line x1="474.21" y1="886.10" x2="474.21" y2="894.10" stroke="#000" stroke-width="1.45"/>
<text x="474.21" y="913.00" text-anchor="middle" font-size="16.8">0.0</text>
<line x1="533.74" y1="886.10" x2="533.74" y2="894.10" stroke="#000" stroke-width="1.45"/>
<text x="533.74" y="913.00" text-anchor="middle" font-size="16.8">0.2</text>
<line x1="593.28" y1="886.10" x2="593.28" y2="894.10" stroke="#000" stroke-width="1.45"/>
<text x="593.28" y="913.00" text-anchor="middle" font-size="16.8">0.4</text>
<line x1="652.82" y1="886.10" x2="652.82" y2="894.10" stroke="#000" stroke-width="1.45"/>
<text x="652.82" y="913.00" text-anchor="middle" font-size="16.8">0.6</text>
<line x1="712.36" y1="886.10" x2="712.36" y2="894.10" stroke="#000" stroke-width="1.45"/>
<text x="712.36" y="913.00" text-anchor="middle" font-size="16.8">0.8</text>
<line x1="771.89" y1="886.10" x2="771.89" y2="894.10" stroke="#000" stroke-width="1.45"/>
<text x="771.89" y="913.00" text-anchor="middle" font-size="16.8">1.0</text>
<text x="13.4" y="20.3" font-size="28" font-weight="bold">A</text>
<text x="419.0" y="20.0" font-size="28" font-weight="bold">B</text>
<text x="84.7" y="16" font-size="18.35">MTF predicted using only MC data</text>
<text x="489.6" y="13.6" font-size="18.3">MC predicted using only MTF data</text>
<text x="90.7" y="940.1" font-size="18.35">Predicted MTF endorsement rate</text>
<text x="517.8" y="940.1" font-size="18.4">Predicted MC selection rate</text>
<text transform="translate(14 592.8) rotate(-90)" font-size="18.5">Observed MTF endorsement rate</text>
<text transform="translate(418.6 565.2) rotate(-90)" font-size="18.35">Observed MC selection rate</text>
</svg>
</body></html>
